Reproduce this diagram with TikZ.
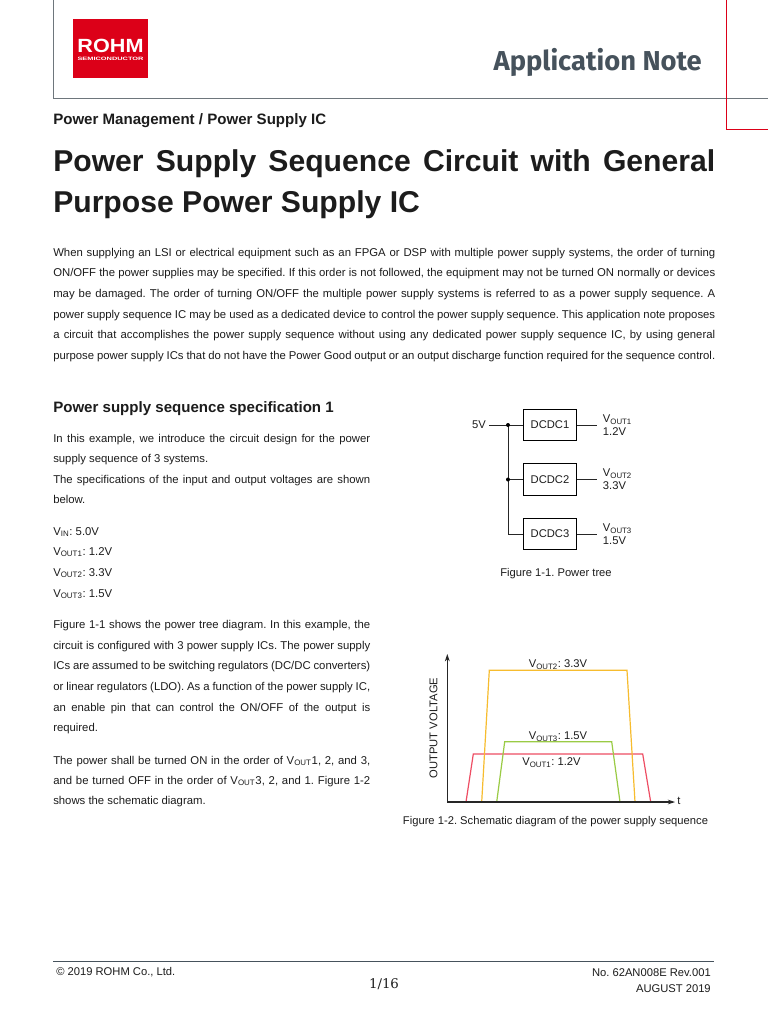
\documentclass[tikz,border=0pt]{standalone}
\usepackage{fontspec}
\usepackage{xcolor}
\usetikzlibrary{calc,arrows.meta}
\setmainfont{Liberation Sans}
\newfontfamily\notefont{Fira Sans}
\newfontfamily\pagefont{DejaVu Serif}
\definecolor{rohmred}{HTML}{DC0018}
\definecolor{frameline}{HTML}{6E767C}
\definecolor{notegray}{HTML}{46525C}
\definecolor{bodytext}{HTML}{1C1C1C}
\definecolor{rail1}{HTML}{EE4D63}
\definecolor{rail2}{HTML}{F7BC2E}
\definecolor{rail3}{HTML}{9ACB45}
\newlength{\pxu}
\setlength{\pxu}{0.75pt}
\newcommand{\vsub}[1]{V\textsubscript{#1}}
\frenchspacing
\tikzset{
  lab/.style={text=bodytext, font=\fontsize{8.5pt}{10pt}\selectfont, inner sep=0pt},
  line/.style={lab, anchor=base west},
  head/.style={line, font=\fontsize{11.3pt}{13pt}\bfseries},
  titleline/.style={line, font=\fontsize{22.6pt}{27pt}\bfseries},
  fig/.style={lab, font=\fontsize{8.4pt}{10pt}\selectfont},
  foot/.style={fig, font=\fontsize{8.4pt}{9pt}\selectfont},
  dcdcbox/.style={draw=black, line width=0.7pt, minimum width=53.4\pxu, minimum height=31.5\pxu, inner sep=0pt, fig},
  wire/.style={line width=0.7pt, draw=black!85},
  dot/.style={circle, fill=black, inner sep=0pt, minimum size=4\pxu},
  railLine/.style={line width=0.9pt},
  axisLine/.style={line width=0.8pt, draw=black!85, -{Stealth[length=5.5pt,width=3.6pt]}}
}
\begin{document}
\begin{tikzpicture}[x=0.75pt,y=-0.75pt]
\useasboundingbox (0,0) rectangle (768,1024);
\fill[white] (0,0) rectangle (768,1024);

% page frame and logo
\draw[frameline, line width=0.75pt] (53,0)--(53,98.5)--(768,98.5);
\draw[rohmred, line width=0.6pt] (726.5,0)--(726.5,129)--(768,129);
\fill[rohmred] (72.5,19.5) rectangle (147.5,78.5);
\node[text=white, inner sep=0pt] (rohm) at (110.5,45.5) {\resizebox{49.5pt}{10pt}{\textbf{ROHM}}};
\node[text=white, inner sep=0pt] (semi) at (110.5,58.5) {\resizebox{49.5pt}{2.5pt}{\textbf{SEMICONDUCTOR}}};
\node[text=notegray, inner sep=0pt, anchor=base east, font=\fontsize{20.5pt}{24pt}\notefont\bfseries] (note) at (702,71) {Application Note};

% headings
\node[head] (sub) at (53,124) {Power Management / Power Supply IC};
\node[titleline] (title1) at (53,171) {\makebox[496.5pt][s]{Power Supply Sequence Circuit with General}};
\node[titleline] (title2) at (53,212) {Purpose Power Supply IC};

% intro paragraph
\foreach \y/\txt [count=\i] in {
  256/{When supplying an LSI or electrical equipment such as an FPGA or DSP with multiple power supply systems, the order of turning},
  276/{ON/OFF the power supplies may be specified. If this order is not followed, the equipment may not be turned ON normally or devices},
  297/{may be damaged. The order of turning ON/OFF the multiple power supply systems is referred to as a power supply sequence. A},
  318/{power supply sequence IC may be used as a dedicated device to control the power supply sequence. This application note proposes},
  338/{a circuit that accomplishes the power supply sequence without using any dedicated power supply sequence IC, by using general},
  359/{purpose power supply ICs that do not have the Power Good output or an output discharge function required for the sequence control.}}
  \node[line] (intro\i) at (53,\y) {\makebox[496.5pt][s]{\txt}};

\node[head] (spec) at (53,412) {Power supply sequence specification 1};

% left column, full width lines
\foreach \y/\txt [count=\i] in {
  442/{In this example, we introduce the circuit design for the power},
  483/{The specifications of the input and output voltages are shown},
  628/{Figure 1-1 shows the power tree diagram. In this example, the},
  649/{circuit is configured with 3 power supply ICs. The power supply},
  669/{ICs are assumed to be switching regulators (DC/DC converters)},
  690/{or linear regulators (LDO). As a function of the power supply IC,},
  711/{an enable pin that can control the ON/OFF of the output is},
  764/{The power shall be turned ON in the order of \vsub{OUT}1, 2, and 3,},
  784/{and be turned OFF in the order of \vsub{OUT}3, 2, and 1. Figure 1-2}}
  \node[line] (col\i) at (53,\y) {\makebox[237.75pt][s]{\txt}};

% left column, short lines
\foreach \y/\txt [count=\i] in {
  462/{supply sequence of 3 systems.},
  503/{below.},
  535/{\vsub{IN}: 5.0V},
  555/{\vsub{OUT1}: 1.2V},
  576/{\vsub{OUT2}: 3.3V},
  597/{\vsub{OUT3}: 1.5V},
  731/{required.},
  804/{shows the schematic diagram.}}
  \node[line] (short\i) at (53,\y) {\txt};

% power tree
\node[dcdcbox] (dcdc1) at (550,425) {DCDC1};
\node[dcdcbox] (dcdc2) at (550,479.5) {DCDC2};
\node[dcdcbox] (dcdc3) at (550,534) {DCDC3};
\node[fig, anchor=east] (vin) at (486,424.5) {5V};
\coordinate (j1) at (508,425);
\coordinate (j2) at (508,479.5);
\coordinate (j3) at (508,534);
\draw[wire] (489,425)--(dcdc1.west);
\draw[wire] (j1)--(j3)--(dcdc3.west);
\draw[wire] (j2)--(dcdc2.west);
\node[dot] (dot1) at (j1) {};
\node[dot] (dot2) at (j2) {};
\foreach \n/\v in {1/1.2V,2/3.3V,3/1.5V} {
  \coordinate (out\n) at ($(dcdc\n.east)+(19.5,0)$);
  \draw[wire] (dcdc\n.east)--(out\n);
  \node[fig, anchor=west] (voutname\n) at ($(dcdc\n.east)+(25.5,-5.5)$) {\vsub{OUT\n}};
  \node[fig, anchor=west] (voutval\n) at ($(dcdc\n.east)+(25.5,6.5)$) {\v};
}
\node[fig] (cap1) at (556,573.5) {Figure 1-1. Power tree};

% sequence chart
\coordinate (O) at (447.3,802);
\coordinate (Ytop) at (447.3,654);
\coordinate (Xend) at (675,802);
\draw[railLine, rail1] (466,802)--(473.3,754)--(642.7,754)--(650.7,802);
\draw[railLine, rail2] (481.7,802)--(489.3,670.3)--(627,670.3)--(635,802);
\draw[railLine, rail3] (496.7,802)--(504.7,741.7)--(611.7,741.7)--(620,802);
\draw[axisLine] (O)--(Ytop);
\draw[axisLine] (O)--(Xend);
\node[fig] (tlab) at (679,801) {t};
\node[fig, rotate=90] (ylab) at (433.5,728) {OUTPUT VOLTAGE};
\node[fig] (lab2) at (558,664.5) {\vsub{OUT2}: 3.3V};
\node[fig] (lab3) at (558,737) {\vsub{OUT3}: 1.5V};
\node[fig] (lab1) at (551.5,763) {\vsub{OUT1}: 1.2V};
\node[fig] (cap2) at (555.5,821.5) {Figure 1-2. Schematic diagram of the power supply sequence};

% footer
\draw[notegray, line width=0.6pt] (53,961.5)--(714,961.5);
\node[foot, anchor=base west] (copy) at (56,975) {© 2019 ROHM Co., Ltd.};
\node[foot, anchor=base east] (docno) at (711,976) {No. 62AN008E Rev.001};
\node[foot, anchor=base east] (date) at (711,992) {AUGUST 2019};
\node[foot, anchor=base, font=\fontsize{10pt}{11pt}\pagefont] (pageno) at (384,988) {1/16};
\end{tikzpicture}
\end{document}
